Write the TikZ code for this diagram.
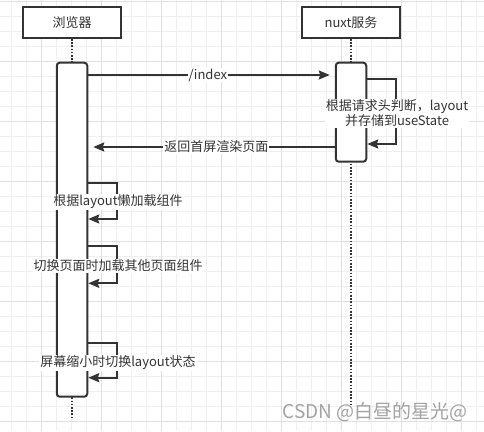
\documentclass[tikz,border=0pt]{standalone}
\usepackage{fontspec}
\setmainfont{Noto Sans CJK SC}
\usetikzlibrary{arrows.meta}
\definecolor{ink}{HTML}{333333}
\definecolor{gridminor}{HTML}{EFEFEF}
\definecolor{gridmajor}{HTML}{E0E0E0}
\definecolor{wmgray}{HTML}{A3A3A3}
\begin{document}
\begin{tikzpicture}[x=1pt, y=-1pt, font=\fontsize{13}{15}\selectfont, text=ink,
          actor/.style={draw=ink, line width=2pt, fill=white, minimum width=98pt, minimum height=31pt, inner sep=0pt},
          act/.style={draw=ink, line width=2pt, fill=white, rounded corners=3pt, minimum width=30.5pt, inner sep=0pt},
          lifeline/.style={draw=ink, line width=1.6pt, dash pattern=on 1.6pt off 1.6pt},
          msg/.style={draw=ink, line width=2pt, -{Stealth[length=11pt,width=9pt,inset=1.5pt]}},
          lbl/.style={fill=white, inner sep=1pt, align=center}]
          \useasboundingbox (0,0) rectangle (484,431);
          \fill[white] (0,0) rectangle (484,431);
          \foreach \x in {11.7,26.7,...,481.7} \draw[gridminor, line width=1pt] (\x,0) -- (\x,431);
          \foreach \y in {1.7,16.7,...,421.7} \draw[gridminor, line width=1pt] (0,\y) -- (484,\y);
          \foreach \x in {41.7,101.7,...,461.7} \draw[gridmajor, line width=1pt] (\x,0) -- (\x,431);
          \foreach \y in {1.7,61.7,...,421.7} \draw[gridmajor, line width=1pt] (0,\y) -- (484,\y);
          \node[actor] (browser) at (72,22.5) {浏览器};
          \node[actor] (nuxt) at (351,22.5) {nuxt服务};
          \coordinate (bend) at (72,418);
          \coordinate (nend) at (351,407);
          \draw[lifeline] (browser.south) -- (bend);
          \draw[lifeline] (nuxt.south) -- (nend);
          \node[act, minimum height=334pt] (bact) at (72,229.7) {};
          \node[act, minimum height=99pt] (nact) at (351,112.2) {};
          \draw[msg, shorten >=5pt] (bact.east |- 0,75) -- node[lbl, pos=0.485] (index) {/index} (nact.west |- 0,75);
          \draw[msg] (nact.east |- 0,79) -| (396,144) -- (nact.east |- 0,144);
          \node[lbl] (judge) at (397,113.5) {根据请求头判断，layout\\并存储到useState};
          \draw[msg, shorten >=5pt] (nact.west |- 0,147) -- node[lbl, pos=0.48] (render) {返回首屏渲染页面} (bact.east |- 0,147);
          \draw[msg] (bact.east |- 0,182.7) -| (116.7,219) -- (bact.east |- 0,219);
          \node[lbl] (lazy) at (118,201.7) {根据layout懒加载组件};
          \draw[msg] (bact.east |- 0,246) -| (116.7,283.3) -- (bact.east |- 0,283.3);
          \node[lbl] (switch) at (118,266) {切换页面时加载其他页面组件};
          \draw[msg] (bact.east |- 0,343.3) -| (116.7,377.7) -- (bact.east |- 0,377.7);
          \node[lbl] (shrink) at (118,362.7) {屏幕缩小时切换layout状态};
          \node[text=wmgray, font=\fontsize{19}{21}\selectfont] (wm) at (375,412) {CSDN @白昼的星光@};
        \end{tikzpicture}
\end{document}
